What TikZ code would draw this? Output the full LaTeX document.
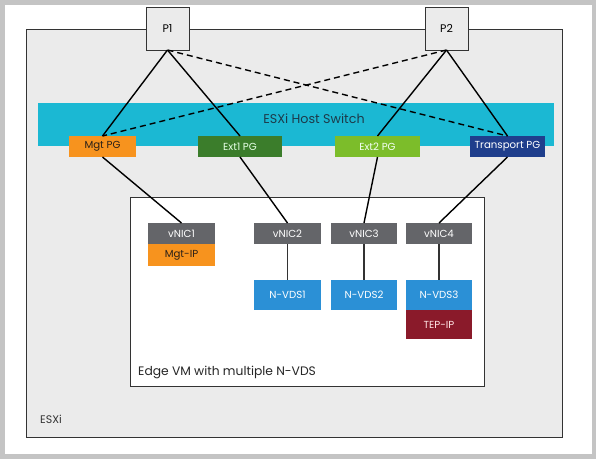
\documentclass[tikz,border=0pt]{standalone}
\usepackage{fontspec}
\setmainfont{Poppins}
\definecolor{frame}{HTML}{C4C4C4}
\definecolor{esxibg}{HTML}{EBEBEB}
\definecolor{boxline}{HTML}{333333}
\definecolor{band}{HTML}{1BB8D3}
\definecolor{bandtext}{HTML}{1D3A4A}
\definecolor{mgt}{HTML}{F7931E}
\definecolor{ext1}{HTML}{3B7D2B}
\definecolor{ext2}{HTML}{7CBD2A}
\definecolor{transport}{HTML}{1F3E8C}
\definecolor{vnic}{HTML}{646569}
\definecolor{nvds}{HTML}{2B90D6}
\definecolor{tep}{HTML}{8A1A2A}
\definecolor{darktext}{HTML}{2A2018}
\tikzset{
  box/.style={draw=none, inner sep=0pt, outer sep=0pt, anchor=north west, font=\fontsize{10.2}{12}\selectfont},
  pswitch/.style={draw=boxline, line width=0.9pt, fill=esxibg, inner sep=0pt, outer sep=0pt, anchor=north west, font=\fontsize{11}{13}\selectfont},
  link/.style={draw=black, line width=1.4pt},
  dlink/.style={draw=black, line width=1.4pt, dash pattern=on 6pt off 4pt},
  vlink/.style={draw=black!80, line width=1.1pt},
}
\begin{document}
\begin{tikzpicture}[x=1pt,y=-1pt]
\useasboundingbox (0,0) rectangle (596,459);
\fill[frame] (0,0) rectangle (596,459);
\fill[white] (5,5) rectangle (592,454);
% ESXi host
\node[draw=boxline, line width=1.1pt, fill=esxibg, inner sep=0pt, anchor=north west, minimum width=536pt, minimum height=408pt] (esxi) at (26,29) {};
\node[anchor=west, inner sep=0pt, font=\fontsize{11}{13}\selectfont, text=black!80] (esxilbl) at (40,419) {ESXi};
% Host switch band
\node[fill=band, inner sep=0pt, anchor=north west, minimum width=516pt, minimum height=43pt] (band) at (38,103) {};
\node[font=\fontsize{12.7}{15}\selectfont, text=bandtext] (bandlbl) at (314,119) {ESXi Host Switch};
% physical uplinks
\node[pswitch, minimum width=43pt, minimum height=43pt] (p1) at (146,7) {P1};
\node[pswitch, minimum width=43pt, minimum height=43pt] (p2) at (425,7) {P2};
% Edge VM
\node[draw=boxline, line width=1.1pt, fill=white, inner sep=0pt, anchor=north west, minimum width=354pt, minimum height=189pt] (edge) at (130,197) {};
\node[anchor=west, inner sep=0pt, font=\fontsize{12.3}{14}\selectfont, text=black!85] (edgelbl) at (138,372) {Edge VM with multiple N-VDS};
% port groups
\node[box, fill=mgt, text=darktext, minimum width=67pt, minimum height=21pt] (mgtpg) at (69,136) {Mgt PG};
\node[box, fill=ext1, text=white!90!green, minimum width=84pt, minimum height=21pt] (ext1pg) at (198,136) {Ext1 PG};
\node[box, fill=ext2, text=white!95!green, minimum width=85pt, minimum height=21pt] (ext2pg) at (335,136) {Ext2 PG};
\node[box, fill=transport, text=white, minimum width=75pt, minimum height=21pt] (trpg) at (470,136) {Transport PG};
% vNICs
\node[box, fill=vnic, text=white, minimum width=67pt, minimum height=21pt] (vnic1) at (148,223) {vNIC1};
\node[box, fill=mgt, text=darktext, minimum width=67pt, minimum height=22pt] (mgtip) at (148,244) {Mgt-IP};
\node[box, fill=vnic, text=white, minimum width=67pt, minimum height=21pt] (vnic2) at (254,223) {vNIC2};
\node[box, fill=vnic, text=white, minimum width=66pt, minimum height=21pt] (vnic3) at (331,223) {vNIC3};
\node[box, fill=vnic, text=white, minimum width=66pt, minimum height=21pt] (vnic4) at (406,223) {vNIC4};
% N-VDS
\node[box, fill=nvds, text=white, minimum width=67pt, minimum height=30pt] (nvds1) at (254,280) {N-VDS1};
\node[box, fill=nvds, text=white, minimum width=66pt, minimum height=30pt] (nvds2) at (331,280) {N-VDS2};
\node[box, fill=nvds, text=white, minimum width=66pt, minimum height=30pt] (nvds3) at (406,280) {N-VDS3};
\node[box, fill=tep, text=white!90!red, minimum width=66pt, minimum height=29pt] (tepip) at (406,310) {TEP-IP};
% links
\draw[link] (p1.south) -- (mgtpg.north);
\draw[link] (p1.south) -- (ext1pg.north);
\draw[link] (p2.south) -- (ext2pg.north);
\draw[link] (p2.south) -- (trpg.north);
\draw[dlink] (p1.south) -- (trpg.north);
\draw[dlink] (p2.south) -- (mgtpg.north);
\draw[link] (mgtpg.south) -- (vnic1.north);
\draw[link] (ext1pg.south) -- (vnic2.north);
\draw[link] (ext2pg.south) -- (vnic3.north);
\draw[link] (trpg.south) -- (vnic4.north);
\draw[vlink] (vnic2.south) -- (nvds1.north);
\draw[vlink] (vnic3.south) -- (nvds2.north);
\draw[vlink] (vnic4.south) -- (nvds3.north);
\end{tikzpicture}
\end{document}
